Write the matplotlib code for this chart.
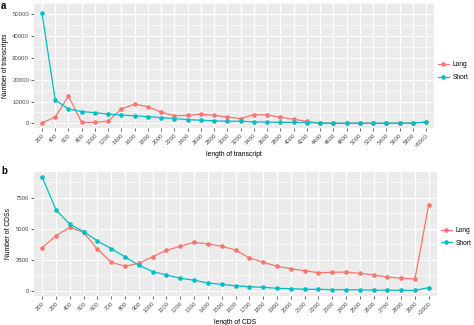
import numpy as np
import matplotlib
matplotlib.use("Agg")
import matplotlib.pyplot as plt

plt.rcParams["font.family"] = ["Liberation Sans", "DejaVu Sans"]

W, H = 474, 325
DPI = 100

red = "#F8766D"
teal = "#00BFC4"
panel_bg = "#EBEBEB"

# transcript length bins
tx_labels = [str(v) for v in range(200, 6000, 200)] + [">6000"]
tx_long = [200, 2900, 12500, 450, 500, 1000, 6600, 8800, 7650, 5150,
           3500, 3650, 4250, 3650, 2900, 2200, 4000, 3900, 2800, 1900,
           900, 100, 50, 50, 50, 50, 50, 50, 50, 600]
tx_short = [50500, 10750, 6600, 5400, 4900, 4250, 3800, 3500, 3100, 2650,
            2200, 1750, 1450, 1200, 950, 1000, 700, 600, 500, 450,
            400, 150, 120, 120, 120, 120, 120, 130, 200, 600]

# CDS length bins
cds_labels = [str(v) for v in range(200, 3000, 100)] + [">3000"]
cds_long = [3470, 4440, 5110, 4700, 3340, 2290, 1970, 2200, 2740, 3250,
            3580, 3900, 3770, 3580, 3280, 2640, 2290, 1970, 1775, 1610,
            1450, 1480, 1500, 1400, 1270, 1100, 1000, 940, 6940]
cds_short = [9145, 6500, 5350, 4760, 4000, 3390, 2720, 2050, 1530, 1270,
             1000, 840, 620, 500, 400, 320, 270, 190, 160, 110,
             110, 80, 70, 60, 50, 40, 30, 20, 250]


def px_axes(fig, left, top, right, bottom):
    return fig.add_axes([left / W, 1 - bottom / H, (right - left) / W, (bottom - top) / H])


def style(ax, labels, yticks, ylabel, xlabel):
    ax.set_facecolor(panel_bg)
    for s in ax.spines.values():
        s.set_visible(False)
    n = len(labels)
    ax.set_xlim(-0.6, n - 1 + 0.6)
    ax.set_xticks(range(n))
    ax.set_xticklabels(labels, rotation=45, ha="right", va="top",
                       rotation_mode="anchor", fontsize=4.3, color="#4D4D4D")
    ax.set_yticks(yticks)
    ax.set_yticklabels([str(v) for v in yticks], fontsize=4.3, color="#4D4D4D")
    minor = [(a + b) / 2 for a, b in zip(yticks[:-1], yticks[1:])]
    minor.append(yticks[-1] + (yticks[1] - yticks[0]) / 2)
    ax.set_yticks(minor, minor=True)
    ax.tick_params(axis="y", which="minor", length=0)
    ax.tick_params(axis="both", which="major", length=2, width=0.5,
                   color="#333333", pad=1.5)
    ax.grid(True, which="major", color="white", linewidth=0.9)
    ax.grid(True, which="minor", axis="y", color="white", linewidth=0.45)
    ax.set_axisbelow(True)
    ax.set_ylabel(ylabel, fontsize=4.9, labelpad=2.5)
    ax.set_xlabel(xlabel, fontsize=4.9, labelpad=2)


fig = plt.figure(figsize=(W / DPI, H / DPI), dpi=DPI)

ax1 = px_axes(fig, 34, 3, 434, 128)
x1 = np.arange(len(tx_labels))
ax1.plot(x1, tx_long, color=red, lw=0.9, marker="o", ms=2.3, label="Long")
ax1.plot(x1, tx_short, color=teal, lw=0.9, marker="o", ms=2.3, label="Short")
ax1.set_ylim(-2100, 53200)
style(ax1, tx_labels, [0, 10000, 20000, 30000, 40000, 50000],
      "Number of transcripts", "length of transcript")
ax1.legend(loc="center left", bbox_to_anchor=(438 / W, 1 - 71 / H),
           bbox_transform=fig.transFigure, frameon=False, fontsize=4.8,
           handlelength=1.6, handletextpad=0.6, labelspacing=0.85,
           borderpad=0, borderaxespad=0)

ax2 = px_axes(fig, 34, 172, 437, 296)
x2 = np.arange(len(cds_labels))
ax2.plot(x2, cds_long, color=red, lw=0.9, marker="o", ms=2.3, label="Long")
ax2.plot(x2, cds_short, color=teal, lw=0.9, marker="o", ms=2.3, label="Short")
ax2.set_ylim(-430, 9570)
style(ax2, cds_labels, [0, 2500, 5000, 7500],
      "Number of CDSs", "length of CDS")
ax2.legend(loc="center left", bbox_to_anchor=(441 / W, 1 - 237 / H),
           bbox_transform=fig.transFigure, frameon=False, fontsize=4.8,
           handlelength=1.6, handletextpad=0.6, labelspacing=0.85,
           borderpad=0, borderaxespad=0)

fig.text(1 / W, 1 - 6 / H, "a", fontsize=7, fontweight="bold", va="center")
fig.text(1 / W, 1 - 171 / H, "b", fontsize=7, fontweight="bold", va="center")

fig.savefig("out.png", dpi=DPI)
